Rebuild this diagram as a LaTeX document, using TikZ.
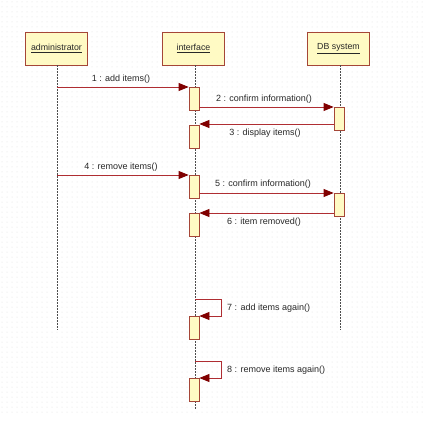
\documentclass[tikz,border=0pt]{standalone}
\usepackage{fontspec}
\setmainfont{Liberation Sans}
\usetikzlibrary{arrows.meta}
\definecolor{boxfill}{RGB}{255,250,196}
\definecolor{boxdraw}{RGB}{165,70,55}
\definecolor{msgcol}{RGB}{175,45,50}
\definecolor{tipcol}{RGB}{128,0,0}
\definecolor{txtcol}{RGB}{40,40,40}
\definecolor{gridcol}{RGB}{222,222,222}
\begin{document}
\begin{tikzpicture}[x=1pt,y=-1pt,
  head/.style={draw=boxdraw,fill=boxfill,line width=0.9pt,minimum width=62pt,minimum height=33pt,inner sep=0pt,font=\fontsize{8.8}{10}\selectfont,text=txtcol},
  act/.style={draw=boxdraw,fill=boxfill,line width=0.8pt,minimum width=10pt,minimum height=23pt,inner sep=0pt},
  life/.style={draw=black!70,dash pattern=on 1.2pt off 1.8pt,line width=0.7pt},
  msg/.style={draw=msgcol,line width=0.8pt,-{Triangle[length=10pt,width=8pt,fill=tipcol,color=tipcol]}},
  lbl/.style={font=\fontsize{9}{10}\selectfont,text=txtcol,inner sep=0pt}]
\useasboundingbox (0,0) rectangle (426,430);
\fill[white] (0,0) rectangle (426,430);
% faint grid
\foreach \i in {2,7,...,422}{\foreach \j in {2,7,...,412}{\fill[gridcol] (\i,\j) circle (0.5pt);}}
% heads
\node[head] (adm) at (56.5,48.5) {\underline{administrator}};
\node[head] (inf) at (193.5,48.5) {\underline{interface}};
\node[head] (db) at (338.5,48.5) {\underline{DB system}};
% lifeline ends
\coordinate (admE) at (57,330);
\coordinate (infE) at (195,410);
\coordinate (dbE) at (340,330);
\draw[life] (adm.south -| admE) -- (admE);
\draw[life] (inf.south -| infE) -- (infE);
\draw[life] (db.south -| dbE) -- (dbE);
% activations
\node[act,anchor=north] (a1) at (194,87) {};
\node[act,anchor=north] (d1) at (339,107) {};
\node[act,anchor=north] (a2) at (194,125) {};
\node[act,anchor=north] (a3) at (194,175) {};
\node[act,anchor=north] (d2) at (339,193) {};
\node[act,anchor=north] (a4) at (194,213) {};
\node[act,anchor=north] (a5) at (194,316) {};
\node[act,anchor=north] (a6) at (194,378) {};
% message start points
\coordinate (m1s) at (57,87);
\coordinate (m4s) at (57,175);
% messages
\draw[msg] (m1s) -- (a1.north west);
\node[lbl] (l1) at (121,79) {1 : add items()};
\draw[msg] (a1.east |- d1.north) -- (d1.north west);
\node[lbl] (l2) at (264,99) {2 : confirm information()};
\draw[msg] (d1.west |- 0,124) -- (a2.east |- 0,124);
\node[lbl] (l3) at (265,133) {3 : display items()};
\draw[msg] (m4s) -- (a3.north west);
\node[lbl] (l4) at (121,167) {4 : remove items()};
\draw[msg] (a3.east |- d2.north) -- (d2.north west);
\node[lbl] (l5) at (263,184) {5 : confirm information()};
\draw[msg] (d2.west |- 0,213) -- (a4.north east);
\node[lbl] (l6) at (264,222) {6 : item removed()};
% self messages
\coordinate (s7) at (195,299);
\draw[msg] (s7) -- (221,299) -- (221,316) -- (a5.north east);
\node[lbl,anchor=west] (l7) at (227,308) {7 : add items again()};
\coordinate (s8) at (195,361);
\draw[msg] (s8) -- (221,361) -- (221,378) -- (a6.north east);
\node[lbl,anchor=west] (l8) at (227,370) {8 : remove items again()};
\end{tikzpicture}
\end{document}
